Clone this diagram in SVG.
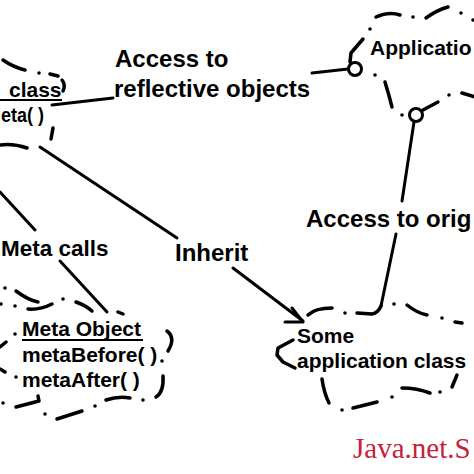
<svg xmlns="http://www.w3.org/2000/svg" width="474" height="474" viewBox="0 0 474 474">
<style>
.t{font-family:"Liberation Sans",Arial,sans-serif;font-weight:bold;fill:#000}
.lbl{font-size:24px}
.nt{font-size:21px}
.cl{fill:none;stroke:#000;stroke-width:3.5;stroke-linecap:round;stroke-linejoin:round}
.ln{fill:none;stroke:#000;stroke-width:3;stroke-linecap:round;stroke-linejoin:round}
.dot{fill:#000}
.port{fill:#fff;stroke:#000;stroke-width:3}
</style>
<rect width="474" height="474" fill="#fff"/>
<g id="meta-class">
<path class="cl" d="M3,60 Q13,67 25,70"/>
<circle class="dot" cx="39" cy="73" r="1.8"/>
<path class="cl" d="M50,74 L58,76"/>
<path class="cl" d="M62,80 Q66,85 63,91"/>
<path class="cl" d="M53,128 L51,139"/>
<path class="cl" d="M0,145 Q13,143 27,148"/>
<text class="t nt" x="9" y="97">class</text>
<line x1="0" y1="100" x2="62" y2="100" stroke="#000" stroke-width="2"/>
<text class="t nt" x="1" y="122" textLength="43" lengthAdjust="spacingAndGlyphs">eta( )</text>
</g>
<g id="meta-object">
<circle class="dot" cx="5" cy="288" r="1.8"/>
<path class="cl" d="M16,291 Q28,300 38,302"/>
<path class="cl" d="M28,309 Q40,310 52,304"/>
<circle class="dot" cx="63" cy="299" r="1.8"/>
<path class="cl" d="M76,302 Q85,305 92,311"/>
<path class="cl" d="M118,312 L123,314"/>
<circle class="dot" cx="1" cy="304" r="1.8"/>
<circle class="dot" cx="15" cy="306" r="1.8"/>
<circle class="dot" cx="15" cy="334" r="1.8"/>
<path class="cl" d="M0,347 L6,342"/>
<path class="cl" d="M0,369 L5,372"/>
<circle class="dot" cx="16" cy="377" r="1.8"/>
<circle class="dot" cx="3" cy="403" r="1.8"/>
<path class="cl" d="M16,407 L39,401 L38,396"/>
<circle class="dot" cx="45" cy="414" r="1.8"/>
<path class="cl" d="M57,419 L82,411"/>
<circle class="dot" cx="95" cy="406" r="1.8"/>
<path class="cl" d="M106,400 Q118,396 130,398"/>
<circle class="dot" cx="143" cy="400" r="1.8"/>
<path class="cl" d="M156,397 Q164,392 163,376"/>
<circle class="dot" cx="162" cy="361" r="1.8"/>
<path class="cl" d="M167,331 Q176,338 168,351"/>
<text class="t nt" x="22" y="336">Meta Object</text>
<line x1="22" y1="340" x2="143" y2="340" stroke="#000" stroke-width="2"/>
<text class="t nt" x="22" y="362">metaBefore( )</text>
<text class="t nt" x="22" y="387">metaAfter( )</text>
</g>
<g id="application">
<path class="cl" d="M376,17 Q389,11 400,15"/>
<circle class="dot" cx="413" cy="17" r="1.8"/>
<path class="cl" d="M426,18 Q437,10 448,7"/>
<circle class="dot" cx="461" cy="13" r="1.8"/>
<circle class="dot" cx="473" cy="20" r="1.8"/>
<circle class="dot" cx="370" cy="29" r="1.8"/>
<path class="cl" d="M363,39 L351,53 L350,62"/>
<circle class="dot" cx="375" cy="75" r="1.8"/>
<path class="cl" d="M385,82 Q389,95 392,107"/>
<circle class="dot" cx="402" cy="115" r="1.8"/>
<path class="cl" d="M423,110 L438,102"/>
<circle class="dot" cx="449" cy="95" r="1.8"/>
<path class="cl" d="M462,93 L475,97"/>
<text class="t nt" x="370" y="55">Applicatio</text>
</g>
<g id="some-application-class">
<path class="cl" d="M308,315 Q315,308 332,308"/>
<circle class="dot" cx="345" cy="313" r="1.8"/>
<path class="cl" d="M357,313 L372,314 Q378,313 381,306"/>
<circle class="dot" cx="394" cy="304" r="1.8"/>
<path class="cl" d="M407,305 Q417,313 427,315"/>
<circle class="dot" cx="442" cy="318" r="1.8"/>
<path class="cl" d="M455,322 L462,323"/>
<path class="cl" d="M293,340 L278,348 L277,355 L283,362 L295,368"/>
<path class="cl" d="M457,375 L452,387"/>
<circle class="dot" cx="440" cy="392" r="1.8"/>
<path class="cl" d="M402,388 Q417,388 430,393"/>
<circle class="dot" cx="392" cy="397" r="1.8"/>
<path class="cl" d="M353,408 L377,402"/>
<circle class="dot" cx="342" cy="410" r="1.8"/>
<path class="cl" d="M322,379 Q324,393 329,403"/>
<text class="t nt" x="297" y="343">Some</text>
<text class="t nt" x="297" y="368">application class</text>
</g>
<g id="connectors">
<path class="ln" d="M52,105 L113,98"/>
<path class="ln" d="M312,73 L348,69"/>
<circle class="port" cx="355" cy="69" r="6.5"/>
<path class="ln" d="M414,122 L402,201"/>
<path class="ln" d="M396,234 L381,306"/>
<circle class="port" cx="416" cy="115" r="6.5"/>
<path class="ln" d="M40,147 L177,238"/>
<path class="ln" d="M233,268 L303,321"/>
<path class="ln" d="M285,322 L303,322 L292,308"/>
<path class="ln" d="M0,192 L35,230"/>
<path class="ln" d="M60,261 L107,312"/>
<text class="t lbl" x="115" y="67">Access to</text>
<text class="t lbl" x="114" y="97">reflective objects</text>
<text class="t lbl" x="306" y="227">Access to orig</text>
<text class="t lbl" x="175" y="261">Inherit</text>
<text class="t" font-size="22.5" x="1" y="256">Meta calls</text>
</g>
<text x="353" y="458" font-family="'Liberation Serif','Times New Roman',serif" font-size="29" fill="#c8203c">Java.net.S</text>
</svg>
